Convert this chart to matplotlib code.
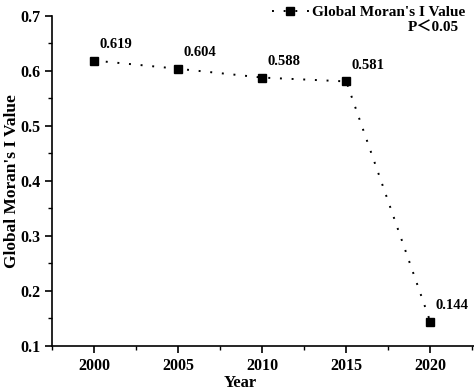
import numpy as np
import matplotlib.pyplot as plt
from matplotlib.ticker import MultipleLocator

years = [2000, 2005, 2010, 2015, 2020]
moran_i = [0.619, 0.604, 0.588, 0.581, 0.144]
labels = ["0.619", "0.604", "0.588", "0.581", "0.144"]

plt.rcParams['font.family'] = ['Liberation Serif', 'Noto Sans CJK SC', 'DejaVu Sans']
plt.rcParams['font.weight'] = 'bold'

fig = plt.figure(figsize=(4.74, 3.9), dpi=100)
ax = fig.add_axes([0.11, 0.113, 0.89, 0.846])

ax.plot(years, moran_i, linestyle=(0, (1, 5)), color='black', linewidth=1.4,
        marker='s', markersize=5.2, label="Global Moran's I Value")
for x, y, t in zip(years, moran_i, labels):
    ax.annotate(t, (x, y), xytext=(4, 9), textcoords='offset points',
                fontsize=10.5, fontweight='bold')

ax.set_xlim(1997.5, 2022.6)
ax.set_ylim(0.1, 0.7)
ax.set_xticks(years)
ax.xaxis.set_minor_locator(MultipleLocator(2.5))
ax.yaxis.set_major_locator(MultipleLocator(0.1))
ax.yaxis.set_minor_locator(MultipleLocator(0.05))
ax.tick_params(which='major', direction='out', length=5, width=1.2, labelsize=11.5)
ax.tick_params(which='minor', direction='out', length=3, width=1.0)
for lab in ax.get_xticklabels() + ax.get_yticklabels():
    lab.set_fontweight('bold')
ax.spines['top'].set_visible(False)
ax.spines['right'].set_visible(False)
ax.spines['left'].set_linewidth(1.2)
ax.spines['bottom'].set_linewidth(1.2)

ax.set_xlabel('Year', fontsize=12, fontweight='bold')
ax.xaxis.set_label_coords(0.446, -0.088)
ax.set_ylabel("Global Moran's I Value", fontsize=12.5, fontweight='bold')
ax.yaxis.set_label_coords(-0.077, 0.5)

leg = ax.legend(loc='upper right', bbox_to_anchor=(1.0, 1.06), frameon=False,
                prop={'size': 11, 'weight': 'bold'}, handlelength=2.4,
                handletextpad=0.2, borderaxespad=0.2)
ax.text(0.965, 0.965, 'P＜0.05', transform=ax.transAxes, ha='right', va='center',
        fontsize=11, fontweight='bold')

fig.savefig('out.png', dpi=100)
